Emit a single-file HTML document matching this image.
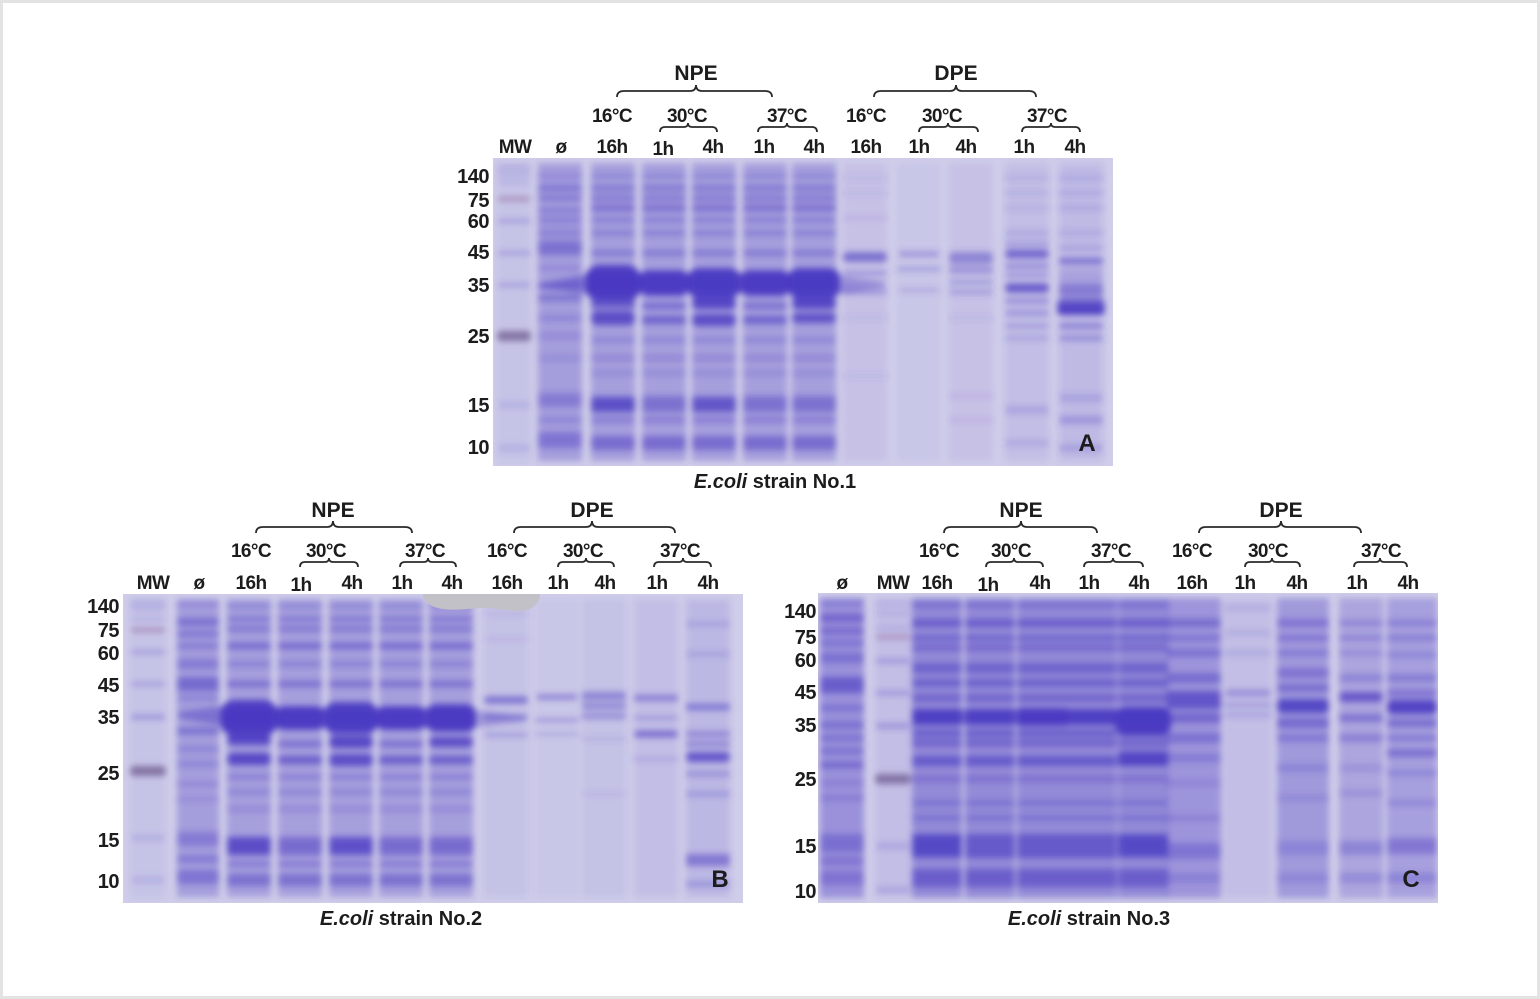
<!DOCTYPE html>
<html><head><meta charset="utf-8">
<style>
html,body{margin:0;padding:0;background:#fff;}
svg{display:block;}
text{font-family:"Liberation Sans",Arial,sans-serif;font-weight:bold;fill:#1c1c1c;}
.t{font-size:21px;text-anchor:middle;}
.r{font-size:19px;text-anchor:middle;letter-spacing:-0.6px;}
.m{font-size:20px;text-anchor:end;letter-spacing:-0.5px;}
.cap{font-size:20px;text-anchor:middle;}
.br{fill:none;stroke:#2a2a2a;stroke-width:1.8;}
</style></head>
<body>
<svg width="1540" height="999" viewBox="0 0 1540 999" xmlns="http://www.w3.org/2000/svg">
<defs>
<filter id="bl" x="-5%" y="-5%" width="110%" height="110%"><feGaussianBlur stdDeviation="3.2"/></filter>
<clipPath id="cA"><rect width="620" height="308"/></clipPath>
<clipPath id="cB"><rect width="620" height="309"/></clipPath>
<clipPath id="cC"><rect width="620" height="310"/></clipPath>
</defs>
<rect x="1.5" y="1.5" width="1537" height="996" fill="#fff" stroke="#e3e3e3" stroke-width="3"/>

<!-- ================= GEL A ================= -->
<g transform="translate(493,158)" clip-path="url(#cA)">
<rect width="620" height="308" fill="#cfcde9"/>
<g filter="url(#bl)" fill="#4a3ac2">
 <g transform="translate(21,0)">
  <rect x="-17" y="4" width="34" height="300" opacity=".07"/>
  <rect x="-16" y="7.5" width="32" height="3" opacity=".25"/>
  <rect x="-16" y="14.5" width="32" height="3" opacity=".25"/>
  <rect x="-16" y="22.5" width="32" height="3" opacity=".2"/>
  <rect x="-16" y="39" width="32" height="4" opacity=".55" fill="#8b5a8c"/>
  <rect x="-16" y="61" width="32" height="4" opacity=".3"/>
  <rect x="-16" y="93" width="32" height="4" opacity=".3"/>
  <rect x="-16" y="125" width="32" height="4" opacity=".3"/>
  <rect x="-17" y="173" width="34" height="10" rx="4" opacity=".75" fill="#6d5a8e"/>
  <rect x="-16" y="244" width="32" height="6" opacity=".15"/>
  <rect x="-16" y="287" width="32" height="6" opacity=".15"/>
 </g>
 <g transform="translate(67,0)">
  <rect x="-22" y="5" width="44" height="298" opacity=".33"/>
  <rect x="-22" y="16" width="44" height="4" opacity=".25"/>
  <rect x="-22" y="27" width="44" height="6" opacity=".4"/>
  <rect x="-22" y="37.5" width="44" height="5" opacity=".4"/>
  <rect x="-22" y="49.5" width="44" height="5" opacity=".35"/>
  <rect x="-22" y="58" width="44" height="8" opacity=".25"/>
  <rect x="-22" y="71" width="44" height="8" opacity=".25"/>
  <rect x="-22" y="83" width="44" height="14" opacity=".45"/>
  <rect x="-22" y="108" width="44" height="4" opacity=".25"/>
  <rect x="-22" y="125" width="44" height="4" opacity=".3"/>
  <rect x="-22" y="137" width="44" height="6" opacity=".45"/>
  <rect x="-22" y="157.5" width="44" height="5" opacity=".3"/>
  <rect x="-22" y="175.5" width="44" height="5" opacity=".25"/>
  <rect x="-22" y="197.5" width="44" height="5" opacity=".2"/>
  <rect x="-22" y="235" width="44" height="14" opacity=".35"/>
  <rect x="-22" y="259.5" width="44" height="5" opacity=".3"/>
  <rect x="-22" y="274" width="44" height="16" opacity=".4"/>
 </g>
 <g id="npeA">
 <g transform="translate(120,0)">
  <rect x="-22" y="5" width="44" height="298" opacity=".32"/>
  <rect x="-22" y="16" width="44" height="4" opacity=".3"/>
  <rect x="-22" y="27.5" width="44" height="5" opacity=".45"/>
  <rect x="-22" y="37.5" width="44" height="5" opacity=".45"/>
  <rect x="-22" y="47" width="44" height="6" opacity=".5"/>
  <rect x="-22" y="59" width="44" height="6" opacity=".3"/>
  <rect x="-22" y="72" width="44" height="6" opacity=".3"/>
  <rect x="-22" y="92.5" width="44" height="5" opacity=".45"/>
  <rect x="-22" y="179.5" width="44" height="5" opacity=".3"/>
  <rect x="-22" y="197.5" width="44" height="5" opacity=".28"/>
  <rect x="-22" y="212.5" width="44" height="5" opacity=".22"/>
  <rect x="-22" y="238" width="44" height="16" opacity=".45"/>
  <rect x="-22" y="259" width="44" height="6" opacity=".35"/>
  <rect x="-22" y="278" width="44" height="14" opacity=".5"/>
 </g>
 </g>
 <use href="#npeA" x="51"/>
 <use href="#npeA" x="101"/>
 <use href="#npeA" x="152"/>
 <use href="#npeA" x="201"/>
 <rect x="95" y="115" width="250" height="20" opacity=".8"/>
 <polygon points="45,126 95,116 95,136 45,130" opacity=".5"/>
 <polygon points="345,118 392,124 392,129 345,136" opacity=".4"/>
 <g transform="translate(120,0)">
  <rect x="-28" y="107" width="56" height="36" rx="14" opacity=".95"/>
  <rect x="-22" y="142" width="44" height="8" opacity=".7"/>
  <rect x="-22" y="153" width="44" height="14" rx="6" opacity=".8"/>
  <rect x="-22" y="240" width="44" height="14" opacity=".6"/>
 </g>
 <g transform="translate(171,0)">
  <rect x="-24" y="112" width="48" height="26" rx="8" opacity=".85"/>
  <rect x="-22" y="145" width="44" height="6" opacity=".55"/>
  <rect x="-22" y="158" width="44" height="8" opacity=".6"/>
 </g>
 <g transform="translate(221,0)">
  <rect x="-26" y="110" width="52" height="30" rx="10" opacity=".92"/>
  <rect x="-22" y="139" width="44" height="12" rx="5" opacity=".85"/>
  <rect x="-22" y="156" width="44" height="12" rx="5" opacity=".8"/>
  <rect x="-22" y="240" width="44" height="14" opacity=".5"/>
 </g>
 <g transform="translate(272,0)">
  <rect x="-24" y="112" width="48" height="26" rx="8" opacity=".85"/>
  <rect x="-22" y="145" width="44" height="6" opacity=".5"/>
  <rect x="-22" y="158" width="44" height="8" opacity=".6"/>
 </g>
 <g transform="translate(321,0)">
  <rect x="-26" y="110" width="52" height="30" rx="10" opacity=".92"/>
  <rect x="-22" y="139" width="44" height="12" rx="5" opacity=".85"/>
  <rect x="-22" y="155" width="44" height="10" rx="4" opacity=".75"/>
 </g>
 <g transform="translate(372,0)">
  <rect x="-22" y="5" width="44" height="298" opacity=".06"/>
  <rect x="-22" y="18" width="44" height="4" opacity=".12"/>
  <rect x="-22" y="33" width="44" height="4" opacity=".12"/>
  <rect x="-22" y="58" width="44" height="4" opacity=".1"/>
  <rect x="-22" y="94" width="44" height="10" rx="4" opacity=".6"/>
  <rect x="-22" y="112.5" width="44" height="5" opacity=".35"/>
  <rect x="-22" y="131.5" width="44" height="5" opacity=".35"/>
  <rect x="-22" y="158" width="44" height="4" opacity=".12"/>
  <rect x="-22" y="216" width="44" height="4" opacity=".12"/>
 </g>
 <g transform="translate(426,0)">
  <rect x="-22" y="5" width="44" height="298" opacity=".03"/>
  <rect x="-20" y="93.5" width="40" height="5" opacity=".4"/>
  <rect x="-22" y="108.5" width="44" height="5" opacity=".3"/>
  <rect x="-20" y="130" width="40" height="4" opacity=".25"/>
 </g>
 <g transform="translate(478,0)">
  <rect x="-22" y="5" width="44" height="298" opacity=".06"/>
  <rect x="-22" y="94" width="44" height="12" rx="4" opacity=".45"/>
  <rect x="-22" y="109" width="44" height="6" opacity=".4"/>
  <rect x="-22" y="121.5" width="44" height="5" opacity=".3"/>
  <rect x="-22" y="131.5" width="44" height="5" opacity=".3"/>
  <rect x="-22" y="158" width="44" height="4" opacity=".12"/>
  <rect x="-22" y="236" width="44" height="4" opacity=".1"/>
  <rect x="-22" y="260" width="44" height="4" opacity=".1"/>
 </g>
 <g transform="translate(534,0)">
  <rect x="-22" y="5" width="44" height="298" opacity=".1"/>
  <rect x="-22" y="18" width="44" height="4" opacity=".15"/>
  <rect x="-22" y="33" width="44" height="4" opacity=".15"/>
  <rect x="-22" y="48" width="44" height="4" opacity=".15"/>
  <rect x="-22" y="72.5" width="44" height="5" opacity=".2"/>
  <rect x="-22" y="83" width="44" height="6" opacity=".25"/>
  <rect x="-22" y="92" width="44" height="8" rx="4" opacity=".7"/>
  <rect x="-22" y="105.5" width="44" height="5" opacity=".4"/>
  <rect x="-22" y="115" width="44" height="4" opacity=".35"/>
  <rect x="-22" y="125.5" width="44" height="9" rx="4" opacity=".75"/>
  <rect x="-22" y="140.5" width="44" height="5" opacity=".4"/>
  <rect x="-22" y="152.5" width="44" height="5" opacity=".35"/>
  <rect x="-22" y="166" width="44" height="4" opacity=".3"/>
  <rect x="-22" y="178" width="44" height="4" opacity=".25"/>
  <rect x="-22" y="248" width="44" height="8" opacity=".2"/>
  <rect x="-22" y="282.5" width="44" height="5" opacity=".2"/>
 </g>
 <g transform="translate(588,0)">
  <rect x="-22" y="5" width="44" height="298" opacity=".12"/>
  <rect x="-22" y="18" width="44" height="4" opacity=".2"/>
  <rect x="-22" y="33" width="44" height="4" opacity=".2"/>
  <rect x="-22" y="48" width="44" height="4" opacity=".2"/>
  <rect x="-22" y="73" width="44" height="4" opacity=".2"/>
  <rect x="-22" y="88" width="44" height="4" opacity=".25"/>
  <rect x="-22" y="100" width="44" height="6" opacity=".6"/>
  <rect x="-22" y="111" width="44" height="4" opacity=".3"/>
  <rect x="-22" y="118" width="44" height="4" opacity=".35"/>
  <rect x="-22" y="125" width="44" height="14" opacity=".5"/>
  <rect x="-24" y="141" width="48" height="12" rx="5" opacity=".8"/>
  <rect x="-24" y="149" width="48" height="8" rx="4" opacity=".9"/>
  <rect x="-22" y="165.5" width="44" height="5" opacity=".5"/>
  <rect x="-22" y="177.5" width="44" height="5" opacity=".4"/>
  <rect x="-22" y="236" width="44" height="8" opacity=".2"/>
  <rect x="-22" y="258" width="44" height="8" opacity=".3"/>
  <rect x="-22" y="287" width="44" height="6" opacity=".25"/>
 </g>
</g>
</g>

<!-- ================= GEL B ================= -->
<g transform="translate(123,594)" clip-path="url(#cB)">
<rect width="620" height="309" fill="#cfcde9"/>
<g filter="url(#bl)" fill="#4a3ac2">
 <g transform="translate(25,0)">
  <rect x="-18" y="4" width="36" height="300" opacity=".07"/>
  <rect x="-17" y="6.5" width="34" height="3" opacity=".25"/>
  <rect x="-17" y="12.5" width="34" height="3" opacity=".25"/>
  <rect x="-17" y="23.5" width="34" height="3" opacity=".2"/>
  <rect x="-17" y="34" width="34" height="4" opacity=".55" fill="#8b5a8c"/>
  <rect x="-17" y="56" width="34" height="4" opacity=".3"/>
  <rect x="-17" y="88" width="34" height="4" opacity=".3"/>
  <rect x="-17" y="120.5" width="34" height="5" opacity=".35"/>
  <rect x="-18" y="172" width="36" height="10" rx="4" opacity=".75" fill="#6d5a8e"/>
  <rect x="-17" y="241" width="34" height="6" opacity=".15"/>
  <rect x="-17" y="283" width="34" height="6" opacity=".15"/>
 </g>
 <g transform="translate(75,0)">
  <rect x="-21" y="5" width="42" height="298" opacity=".33"/>
  <rect x="-21" y="8" width="42" height="4" opacity=".25"/>
  <rect x="-21" y="24" width="42" height="8" opacity=".45"/>
  <rect x="-21" y="37" width="42" height="6" opacity=".4"/>
  <rect x="-21" y="49" width="42" height="6" opacity=".35"/>
  <rect x="-21" y="65" width="42" height="10" opacity=".35"/>
  <rect x="-21" y="83" width="42" height="14" opacity=".5"/>
  <rect x="-21" y="101.5" width="42" height="5" opacity=".3"/>
  <rect x="-21" y="134" width="42" height="6" opacity=".5"/>
  <rect x="-21" y="152.5" width="42" height="5" opacity=".3"/>
  <rect x="-21" y="167.5" width="42" height="5" opacity=".3"/>
  <rect x="-21" y="188" width="42" height="4" opacity=".25"/>
  <rect x="-21" y="203" width="42" height="4" opacity=".2"/>
  <rect x="-21" y="238" width="42" height="14" opacity=".35"/>
  <rect x="-21" y="261" width="42" height="8" opacity=".35"/>
  <rect x="-21" y="276" width="42" height="14" opacity=".4"/>
 </g>
 <g id="npeB">
 <g transform="translate(126,0)">
  <rect x="-22" y="5" width="44" height="298" opacity=".32"/>
  <rect x="-22" y="10" width="44" height="4" opacity=".3"/>
  <rect x="-22" y="22.5" width="44" height="5" opacity=".4"/>
  <rect x="-22" y="32.5" width="44" height="5" opacity=".45"/>
  <rect x="-22" y="49" width="44" height="6" opacity=".55"/>
  <rect x="-22" y="67" width="44" height="6" opacity=".3"/>
  <rect x="-22" y="87" width="44" height="6" opacity=".5"/>
  <rect x="-22" y="180.5" width="44" height="5" opacity=".35"/>
  <rect x="-22" y="195.5" width="44" height="5" opacity=".3"/>
  <rect x="-22" y="212.5" width="44" height="5" opacity=".25"/>
  <rect x="-22" y="243" width="44" height="18" opacity=".5"/>
  <rect x="-22" y="267" width="44" height="6" opacity=".35"/>
  <rect x="-22" y="280" width="44" height="12" opacity=".45"/>
 </g>
 </g>
 <use href="#npeB" x="51"/>
 <use href="#npeB" x="102"/>
 <use href="#npeB" x="152"/>
 <use href="#npeB" x="202"/>
 <rect x="100" y="114" width="250" height="20" opacity=".8"/>
 <polygon points="55,118 100,112 100,132 55,124" opacity=".45"/>
 <polygon points="350,116 402,122 402,127 350,134" opacity=".35"/>
 <g transform="translate(126,0)">
  <rect x="-29" y="106" width="58" height="36" rx="14" opacity=".95"/>
  <rect x="-22" y="141" width="44" height="10" rx="4" opacity=".85"/>
  <rect x="-22" y="159" width="44" height="12" rx="5" opacity=".85"/>
  <rect x="-22" y="243" width="44" height="18" opacity=".6"/>
 </g>
 <g transform="translate(177,0)">
  <rect x="-24" y="112" width="48" height="24" rx="8" opacity=".85"/>
  <rect x="-22" y="147" width="44" height="6" opacity=".5"/>
  <rect x="-22" y="162" width="44" height="8" opacity=".65"/>
 </g>
 <g transform="translate(228,0)">
  <rect x="-26" y="108" width="52" height="32" rx="10" opacity=".92"/>
  <rect x="-22" y="142" width="44" height="12" rx="5" opacity=".85"/>
  <rect x="-22" y="160" width="44" height="12" rx="5" opacity=".8"/>
  <rect x="-22" y="243" width="44" height="18" opacity=".55"/>
 </g>
 <g transform="translate(278,0)">
  <rect x="-24" y="112" width="48" height="24" rx="8" opacity=".85"/>
  <rect x="-22" y="147" width="44" height="6" opacity=".5"/>
  <rect x="-22" y="162" width="44" height="8" opacity=".65"/>
 </g>
 <g transform="translate(328,0)">
  <rect x="-25" y="110" width="50" height="28" rx="10" opacity=".9"/>
  <rect x="-22" y="143" width="44" height="10" rx="4" opacity=".8"/>
  <rect x="-22" y="162" width="44" height="8" opacity=".65"/>
 </g>
 <g transform="translate(383,0)">
  <rect x="-22" y="5" width="44" height="298" opacity=".08"/>
  <rect x="-22" y="18" width="44" height="4" opacity=".1"/>
  <rect x="-22" y="43" width="44" height="4" opacity=".1"/>
  <rect x="-22" y="102.5" width="44" height="7" rx="3" opacity=".6"/>
  <rect x="-22" y="120.5" width="44" height="5" opacity=".4"/>
  <rect x="-22" y="139" width="44" height="4" opacity=".3"/>
 </g>
 <g transform="translate(434,0)">
  <rect x="-22" y="5" width="44" height="298" opacity=".05"/>
  <rect x="-20" y="100.5" width="40" height="5" opacity=".5"/>
  <rect x="-22" y="124" width="44" height="4" opacity=".35"/>
  <rect x="-22" y="138" width="44" height="4" opacity=".2"/>
 </g>
 <g transform="translate(481,0)">
  <rect x="-22" y="5" width="44" height="298" opacity=".08"/>
  <rect x="-22" y="98" width="44" height="8" opacity=".45"/>
  <rect x="-22" y="109" width="44" height="6" opacity=".45"/>
  <rect x="-22" y="119" width="44" height="6" opacity=".4"/>
  <rect x="-22" y="143" width="44" height="4" opacity=".15"/>
  <rect x="-22" y="198" width="44" height="4" opacity=".1"/>
 </g>
 <g transform="translate(533,0)">
  <rect x="-22" y="5" width="44" height="298" opacity=".1"/>
  <rect x="-22" y="101" width="44" height="6" opacity=".5"/>
  <rect x="-22" y="122" width="44" height="4" opacity=".3"/>
  <rect x="-22" y="136.5" width="44" height="7" rx="3" opacity=".6"/>
  <rect x="-22" y="163" width="44" height="4" opacity=".2"/>
 </g>
 <g transform="translate(585,0)">
  <rect x="-22" y="5" width="44" height="298" opacity=".15"/>
  <rect x="-22" y="27.5" width="44" height="5" opacity=".2"/>
  <rect x="-22" y="57.5" width="44" height="5" opacity=".2"/>
  <rect x="-22" y="110" width="44" height="6" opacity=".55"/>
  <rect x="-22" y="137.5" width="44" height="5" opacity=".45"/>
  <rect x="-22" y="147.5" width="44" height="5" opacity=".45"/>
  <rect x="-22" y="158" width="44" height="10" rx="4" opacity=".75"/>
  <rect x="-22" y="177.5" width="44" height="5" opacity=".35"/>
  <rect x="-22" y="197.5" width="44" height="5" opacity=".3"/>
  <rect x="-22" y="260" width="44" height="12" opacity=".5"/>
  <rect x="-22" y="287" width="44" height="6" opacity=".3"/>
 </g>
</g>
<path d="M300,0 L417,0 C417,11 407,18 392,17 C377,16 367,13 357,14 C342,15 322,18 309,12 C302,8 300,4 300,0Z" fill="#c2c1c8"/>
</g>

<!-- ================= GEL C ================= -->
<g transform="translate(818,593)" clip-path="url(#cC)">
<rect width="620" height="310" fill="#cfcde9"/>
<g filter="url(#bl)" fill="#4a3ac2">
 <g transform="translate(24,0)">
  <rect x="-22" y="5" width="44" height="300" opacity=".4"/>
  <rect x="-22" y="7" width="44" height="6" opacity=".25"/>
  <rect x="-22" y="21" width="44" height="8" opacity=".5"/>
  <rect x="-22" y="35" width="44" height="6" opacity=".5"/>
  <rect x="-22" y="47" width="44" height="6" opacity=".4"/>
  <rect x="-22" y="60" width="44" height="10" opacity=".4"/>
  <rect x="-22" y="84" width="44" height="16" opacity=".6"/>
  <rect x="-22" y="112" width="44" height="6" opacity=".4"/>
  <rect x="-22" y="129" width="44" height="6" opacity=".45"/>
  <rect x="-22" y="142" width="44" height="6" opacity=".4"/>
  <rect x="-22" y="155" width="44" height="6" opacity=".4"/>
  <rect x="-22" y="169" width="44" height="6" opacity=".5"/>
  <rect x="-22" y="187.5" width="44" height="5" opacity=".25"/>
  <rect x="-22" y="202.5" width="44" height="5" opacity=".3"/>
  <rect x="-22" y="241" width="44" height="18" opacity=".4"/>
  <rect x="-22" y="264" width="44" height="8" opacity=".35"/>
  <rect x="-22" y="278" width="44" height="14" opacity=".35"/>
 </g>
 <g transform="translate(75,0)">
  <rect x="-18" y="5" width="36" height="300" opacity=".1"/>
  <rect x="-17" y="8.5" width="34" height="3" opacity=".2"/>
  <rect x="-17" y="18.5" width="34" height="3" opacity=".2"/>
  <rect x="-17" y="33.5" width="34" height="3" opacity=".2"/>
  <rect x="-17" y="42" width="34" height="4" opacity=".5" fill="#8b5a8c"/>
  <rect x="-17" y="66" width="34" height="4" opacity=".35"/>
  <rect x="-17" y="98" width="34" height="4" opacity=".35"/>
  <rect x="-17" y="130.5" width="34" height="5" opacity=".35"/>
  <rect x="-18" y="181" width="36" height="10" rx="4" opacity=".75" fill="#6d5a8e"/>
  <rect x="-17" y="250" width="34" height="6" opacity=".2"/>
  <rect x="-17" y="294" width="34" height="6" opacity=".2"/>
 </g>
 <g id="npeC">
 <g transform="translate(119,0)">
  <rect x="-25" y="5" width="50" height="300" opacity=".45"/>
  <rect x="-25" y="9.5" width="50" height="5" opacity=".4"/>
  <rect x="-25" y="26" width="50" height="8" opacity=".55"/>
  <rect x="-25" y="42" width="50" height="6" opacity=".5"/>
  <rect x="-25" y="52" width="50" height="6" opacity=".45"/>
  <rect x="-25" y="70" width="50" height="10" opacity=".5"/>
  <rect x="-25" y="86" width="50" height="8" opacity=".5"/>
  <rect x="-25" y="101" width="50" height="8" opacity=".45"/>
  <rect x="-25" y="116" width="50" height="16" opacity=".8"/>
  <rect x="-25" y="136" width="50" height="8" opacity=".5"/>
  <rect x="-25" y="146" width="50" height="8" opacity=".45"/>
  <rect x="-25" y="163" width="50" height="10" opacity=".6"/>
  <rect x="-25" y="183" width="50" height="6" opacity=".35"/>
  <rect x="-25" y="207" width="50" height="6" opacity=".3"/>
  <rect x="-25" y="222" width="50" height="6" opacity=".3"/>
  <rect x="-25" y="241" width="50" height="24" opacity=".6"/>
  <rect x="-25" y="276" width="50" height="18" opacity=".55"/>
 </g>
 </g>
 <use href="#npeC" x="53"/>
 <use href="#npeC" x="105"/>
 <use href="#npeC" x="155"/>
 <use href="#npeC" x="206"/>
 <rect x="95" y="117" width="255" height="14" opacity=".6"/>
 <g transform="translate(119,0)"><rect x="-25" y="242" width="50" height="20" opacity=".55"/></g>
 <g transform="translate(224,0)"><rect x="-25" y="115" width="50" height="18" opacity=".75"/></g>
 <g transform="translate(325,0)">
  <rect x="-28" y="114" width="56" height="28" rx="10" opacity=".95"/>
  <rect x="-25" y="158" width="50" height="14" opacity=".75"/>
  <rect x="-25" y="242" width="50" height="20" opacity=".55"/>
 </g>
 <g transform="translate(376,0)">
  <rect x="-27" y="5" width="54" height="300" opacity=".38"/>
  <rect x="-27" y="26" width="54" height="8" opacity=".45"/>
  <rect x="-27" y="42" width="54" height="6" opacity=".4"/>
  <rect x="-27" y="56" width="54" height="8" opacity=".4"/>
  <rect x="-27" y="80" width="54" height="10" opacity=".45"/>
  <rect x="-27" y="98" width="54" height="18" opacity=".7"/>
  <rect x="-27" y="120" width="54" height="10" opacity=".5"/>
  <rect x="-27" y="140" width="54" height="10" opacity=".4"/>
  <rect x="-27" y="161" width="54" height="8" opacity=".3"/>
  <rect x="-27" y="187" width="54" height="6" opacity=".2"/>
  <rect x="-27" y="222" width="54" height="6" opacity=".25"/>
  <rect x="-27" y="250" width="54" height="16" opacity=".35"/>
  <rect x="-27" y="280" width="54" height="10" opacity=".25"/>
 </g>
 <g transform="translate(430,0)">
  <rect x="-24" y="5" width="48" height="300" opacity=".1"/>
  <rect x="-24" y="12.5" width="48" height="5" opacity=".15"/>
  <rect x="-24" y="37.5" width="48" height="5" opacity=".15"/>
  <rect x="-24" y="57" width="48" height="6" opacity=".15"/>
  <rect x="-22" y="97" width="44" height="6" opacity=".4"/>
  <rect x="-24" y="110" width="48" height="4" opacity=".3"/>
  <rect x="-24" y="120" width="48" height="4" opacity=".25"/>
 </g>
 <g transform="translate(485,0)">
  <rect x="-26" y="5" width="52" height="300" opacity=".35"/>
  <rect x="-26" y="26" width="52" height="8" opacity=".4"/>
  <rect x="-26" y="42" width="52" height="6" opacity=".4"/>
  <rect x="-26" y="57" width="52" height="6" opacity=".35"/>
  <rect x="-26" y="75" width="52" height="10" opacity=".4"/>
  <rect x="-26" y="91" width="52" height="8" opacity=".45"/>
  <rect x="-26" y="106" width="52" height="14" rx="5" opacity=".85"/>
  <rect x="-26" y="125" width="52" height="10" opacity=".5"/>
  <rect x="-26" y="141" width="52" height="8" opacity=".35"/>
  <rect x="-26" y="171" width="52" height="8" opacity=".25"/>
  <rect x="-26" y="202" width="52" height="6" opacity=".2"/>
  <rect x="-26" y="248" width="52" height="14" opacity=".25"/>
  <rect x="-26" y="280" width="52" height="10" opacity=".2"/>
 </g>
 <g transform="translate(543,0)">
  <rect x="-22" y="5" width="44" height="300" opacity=".27"/>
  <rect x="-22" y="27" width="44" height="6" opacity=".3"/>
  <rect x="-22" y="42" width="44" height="6" opacity=".3"/>
  <rect x="-22" y="57" width="44" height="6" opacity=".25"/>
  <rect x="-22" y="81" width="44" height="8" opacity=".3"/>
  <rect x="-22" y="99" width="44" height="10" rx="4" opacity=".7"/>
  <rect x="-22" y="121" width="44" height="8" opacity=".45"/>
  <rect x="-22" y="141" width="44" height="8" opacity=".35"/>
  <rect x="-22" y="172" width="44" height="6" opacity=".2"/>
  <rect x="-22" y="197" width="44" height="6" opacity=".2"/>
  <rect x="-22" y="248" width="44" height="14" opacity=".3"/>
  <rect x="-22" y="280" width="44" height="10" opacity=".25"/>
 </g>
 <g transform="translate(594,0)">
  <rect x="-25" y="5" width="50" height="300" opacity=".3"/>
  <rect x="-25" y="27" width="50" height="6" opacity=".35"/>
  <rect x="-25" y="42" width="50" height="6" opacity=".35"/>
  <rect x="-25" y="59" width="50" height="6" opacity=".3"/>
  <rect x="-25" y="81" width="50" height="8" opacity=".35"/>
  <rect x="-25" y="96" width="50" height="8" opacity=".4"/>
  <rect x="-25" y="107" width="50" height="14" rx="5" opacity=".9"/>
  <rect x="-25" y="126" width="50" height="8" opacity=".5"/>
  <rect x="-25" y="142" width="50" height="6" opacity=".4"/>
  <rect x="-25" y="156" width="50" height="8" opacity=".45"/>
  <rect x="-25" y="177" width="50" height="6" opacity=".3"/>
  <rect x="-25" y="207" width="50" height="6" opacity=".25"/>
  <rect x="-25" y="245" width="50" height="16" opacity=".4"/>
  <rect x="-25" y="280" width="50" height="10" opacity=".3"/>
 </g>
</g>
</g>

<!-- ================= TEXT: GEL A ================= -->
<text class="t" x="696" y="80">NPE</text>
<text class="t" x="956" y="80">DPE</text>
<path class="br" d="M617,97 Q617,91 624,91 L690,91 Q696,91 696,85 Q696,91 702,91 L765,91 Q772,91 772,97"/>
<path class="br" d="M874,97 Q874,91 881,91 L950,91 Q956,91 956,85 Q956,91 962,91 L1029,91 Q1036,91 1036,97"/>
<text class="r" x="612" y="122">16°C</text>
<text class="r" x="687" y="122">30°C</text>
<text class="r" x="787" y="122">37°C</text>
<text class="r" x="866" y="122">16°C</text>
<text class="r" x="942" y="122">30°C</text>
<text class="r" x="1047" y="122">37°C</text>
<path class="br" d="M660,132 Q660,127 665,127 L684,127 Q688,127 688,123 Q688,127 692,127 L712,127 Q717,127 717,132"/>
<path class="br" d="M758,132 Q758,127 763,127 L783,127 Q787,127 787,123 Q787,127 791,127 L812,127 Q817,127 817,132"/>
<path class="br" d="M919,132 Q919,127 924,127 L944,127 Q948,127 948,123 Q948,127 952,127 L973,127 Q978,127 978,132"/>
<path class="br" d="M1022,132 Q1022,127 1027,127 L1047,127 Q1051,127 1051,123 Q1051,127 1055,127 L1075,127 Q1080,127 1080,132"/>
<text class="r" x="515" y="153">MW</text>
<text class="r" x="561" y="153">ø</text>
<text class="r" x="612" y="153">16h</text>
<text class="r" x="663" y="155">1h</text>
<text class="r" x="713" y="153">4h</text>
<text class="r" x="764" y="153">1h</text>
<text class="r" x="814" y="153">4h</text>
<text class="r" x="866" y="153">16h</text>
<text class="r" x="919" y="153">1h</text>
<text class="r" x="966" y="153">4h</text>
<text class="r" x="1024" y="153">1h</text>
<text class="r" x="1075" y="153">4h</text>
<text class="m" x="489" y="183">140</text>
<text class="m" x="489" y="207">75</text>
<text class="m" x="489" y="228">60</text>
<text class="m" x="489" y="259">45</text>
<text class="m" x="489" y="292">35</text>
<text class="m" x="489" y="343">25</text>
<text class="m" x="489" y="412">15</text>
<text class="m" x="489" y="454">10</text>
<text x="1087" y="451" style="font-size:24px;text-anchor:middle">A</text>
<text class="cap" x="775" y="488"><tspan font-style="italic">E.coli</tspan> strain No.1</text>

<!-- ================= TEXT: GEL B ================= -->
<text class="t" x="333" y="517">NPE</text>
<text class="t" x="592" y="517">DPE</text>
<path class="br" d="M256,533 Q256,527 263,527 L327,527 Q333,527 333,521 Q333,527 339,527 L405,527 Q412,527 412,533"/>
<path class="br" d="M514,533 Q514,527 521,527 L586,527 Q592,527 592,521 Q592,527 598,527 L668,527 Q675,527 675,533"/>
<text class="r" x="251" y="557">16°C</text>
<text class="r" x="326" y="557">30°C</text>
<text class="r" x="425" y="557">37°C</text>
<text class="r" x="507" y="557">16°C</text>
<text class="r" x="583" y="557">30°C</text>
<text class="r" x="680" y="557">37°C</text>
<path class="br" d="M300,567 Q300,562 305,562 L325,562 Q329,562 329,558 Q329,562 333,562 L353,562 Q358,562 358,567"/>
<path class="br" d="M400,567 Q400,562 405,562 L424,562 Q428,562 428,558 Q428,562 432,562 L451,562 Q456,562 456,567"/>
<path class="br" d="M558,567 Q558,562 563,562 L582,562 Q586,562 586,558 Q586,562 590,562 L609,562 Q614,562 614,567"/>
<path class="br" d="M654,567 Q654,562 659,562 L679,562 Q683,562 683,558 Q683,562 687,562 L706,562 Q711,562 711,567"/>
<text class="r" x="153" y="589">MW</text>
<text class="r" x="199" y="589">ø</text>
<text class="r" x="251" y="589">16h</text>
<text class="r" x="301" y="591">1h</text>
<text class="r" x="352" y="589">4h</text>
<text class="r" x="402" y="589">1h</text>
<text class="r" x="452" y="589">4h</text>
<text class="r" x="507" y="589">16h</text>
<text class="r" x="558" y="589">1h</text>
<text class="r" x="605" y="589">4h</text>
<text class="r" x="657" y="589">1h</text>
<text class="r" x="708" y="589">4h</text>
<text class="m" x="119" y="613">140</text>
<text class="m" x="119" y="637">75</text>
<text class="m" x="119" y="660">60</text>
<text class="m" x="119" y="692">45</text>
<text class="m" x="119" y="724">35</text>
<text class="m" x="119" y="780">25</text>
<text class="m" x="119" y="847">15</text>
<text class="m" x="119" y="888">10</text>
<text x="720" y="887" style="font-size:24px;text-anchor:middle">B</text>
<text class="cap" x="401" y="925"><tspan font-style="italic">E.coli</tspan> strain No.2</text>

<!-- ================= TEXT: GEL C ================= -->
<text class="t" x="1021" y="517">NPE</text>
<text class="t" x="1281" y="517">DPE</text>
<path class="br" d="M944,533 Q944,527 951,527 L1015,527 Q1021,527 1021,521 Q1021,527 1027,527 L1090,527 Q1097,527 1097,533"/>
<path class="br" d="M1199,533 Q1199,527 1206,527 L1275,527 Q1281,527 1281,521 Q1281,527 1287,527 L1354,527 Q1361,527 1361,533"/>
<text class="r" x="939" y="557">16°C</text>
<text class="r" x="1011" y="557">30°C</text>
<text class="r" x="1111" y="557">37°C</text>
<text class="r" x="1192" y="557">16°C</text>
<text class="r" x="1268" y="557">30°C</text>
<text class="r" x="1381" y="557">37°C</text>
<path class="br" d="M986,567 Q986,562 991,562 L1010,562 Q1014,562 1014,558 Q1014,562 1018,562 L1038,562 Q1043,562 1043,567"/>
<path class="br" d="M1084,567 Q1084,562 1089,562 L1109,562 Q1113,562 1113,558 Q1113,562 1117,562 L1138,562 Q1143,562 1143,567"/>
<path class="br" d="M1245,567 Q1245,562 1250,562 L1268,562 Q1272,562 1272,558 Q1272,562 1276,562 L1295,562 Q1300,562 1300,567"/>
<path class="br" d="M1354,567 Q1354,562 1359,562 L1376,562 Q1380,562 1380,558 Q1380,562 1384,562 L1402,562 Q1407,562 1407,567"/>
<text class="r" x="842" y="589">ø</text>
<text class="r" x="893" y="589">MW</text>
<text class="r" x="937" y="589">16h</text>
<text class="r" x="988" y="591">1h</text>
<text class="r" x="1040" y="589">4h</text>
<text class="r" x="1089" y="589">1h</text>
<text class="r" x="1139" y="589">4h</text>
<text class="r" x="1192" y="589">16h</text>
<text class="r" x="1245" y="589">1h</text>
<text class="r" x="1297" y="589">4h</text>
<text class="r" x="1357" y="589">1h</text>
<text class="r" x="1408" y="589">4h</text>
<text class="m" x="816" y="618">140</text>
<text class="m" x="816" y="644">75</text>
<text class="m" x="816" y="667">60</text>
<text class="m" x="816" y="699">45</text>
<text class="m" x="816" y="732">35</text>
<text class="m" x="816" y="786">25</text>
<text class="m" x="816" y="853">15</text>
<text class="m" x="816" y="898">10</text>
<text x="1411" y="887" style="font-size:24px;text-anchor:middle">C</text>
<text class="cap" x="1089" y="925"><tspan font-style="italic">E.coli</tspan> strain No.3</text>
</svg>
</body></html>
